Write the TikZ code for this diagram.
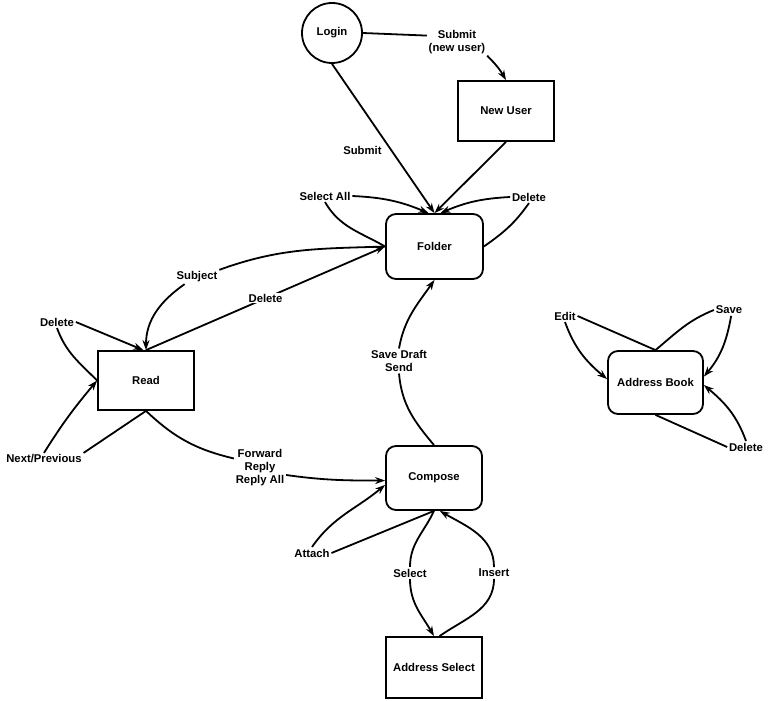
\documentclass[tikz,border=0pt]{standalone}
\usepackage{fontspec}
\setmainfont{Liberation Sans}
\usetikzlibrary{arrows.meta}

\begin{document}
\begin{tikzpicture}[x=1pt, y=1pt, line width=1.8pt,
    >={Stealth[length=10pt,width=7pt]},
    stato/.style={draw, font=\fontsize{11.3}{13}\selectfont\bfseries,
      minimum width=96pt, minimum height=60pt, inner sep=2pt},
    cartella/.style={stato, rounded corners=10pt},
    etichetta/.style={font=\fontsize{11.3}{13}\selectfont\bfseries,
      align=center, inner sep=1pt}]
      % Cornice
      \useasboundingbox (0,0) rectangle (774,-701);

      % Stati
      \node[stato, circle, minimum width=60pt, minimum height=60pt] (login) at (332,-33) {Login};
      \node[stato] (nuovo) at (506,-111) {New User};
      \node[cartella, minimum width=97pt, minimum height=65pt] (folder) at (434.5,-246.5) {Folder};
      \node[stato, minimum height=59pt] (read) at (146,-380.5) {Read};
      \node[cartella, minimum height=64pt] (compose) at (434,-478) {Compose};
      \node[stato, minimum height=61pt] (addrsel) at (434,-667.5) {Address Select};
      \node[cartella, minimum width=95pt, minimum height=63pt] (addrbook) at (655.5,-382.5) {Address Book};

      % Etichette delle transizioni
      \node[etichetta] (subnuovo) at (457,-42) {Submit\\(new user)};
      \node[etichetta] (selall) at (325,-196) {Select All};
      \node[etichetta] (fdel) at (529,-197) {Delete};
      \node[etichetta] (subj) at (197,-277) {Subject};
      \node[etichetta] (rdel) at (57,-322) {Delete};
      \node[etichetta] (np) at (44,-459) {Next/Previous};
      \node[etichetta] (fwd) at (260,-468) {Forward\\Reply\\Reply All};
      \node[etichetta] (bozza) at (399,-361) {Save Draft\\Send};
      \node[etichetta] (attach) at (312,-553) {Attach};
      \node[etichetta] (sel) at (410,-573) {Select};
      \node[etichetta] (ins) at (494,-573) {Insert};
      \node[etichetta] (edit) at (565,-316) {Edit};
      \node[etichetta] (absave) at (729,-310) {Save};
      \node[etichetta] (abdel) at (746,-447) {Delete};

      % Login
      \draw (login.east) -- (subnuovo.168);
      \draw[->] (subnuovo.south east) to[out=-45, in=120] (nuovo.north);
      \draw[->] (login.south) -- node[etichetta, left=8pt, pos=0.58] (sub) {Submit} (folder.north);
      \draw[->] (nuovo.south) -- (folder.north);

      % Folder
      \draw (folder.west) to[out=150, in=-60] (selall.south);
      \draw[->] (selall.east) to[bend left=10] (folder.100);
      \draw (folder.east) to[out=35, in=-125] (fdel.south);
      \draw[->] (fdel.west) to[bend right=10] (folder.80);
      \draw (folder.west) to[out=182, in=20] (subj.north east);
      \draw[->] (subj.-150) to[out=-145, in=90] (read.north);

      % Read
      \draw[->] (read.north) -- node[etichetta, fill=white] (rfdel) {Delete} (folder.west);
      \draw (read.west) to[out=135, in=-70] (rdel.south);
      \draw[->] (rdel.east) -- (read.95);
      \draw (read.south) -- (np.north east);
      \draw[->] (np.north) to[out=58, in=-130] (read.west);
      \draw (read.south) to[bend right=15] (fwd.160);
      \draw[->] (fwd.-15) to[out=-8, in=180] (compose.183);

      % Compose
      \draw (compose.south) -- (attach.east);
      \draw[->] (attach.north) to[out=55, in=-140] (compose.188);
      \draw (compose.north) to[out=130, in=-85] (bozza.south);
      \draw[->] (bozza.north) to[out=80, in=-125] (folder.south);
      \draw (compose.south) to[out=-115, in=90] (sel.north);
      \draw[->] (sel.south) to[out=-90, in=120] (addrsel.north);
      \draw (addrsel.80) to[out=35, in=-90] (ins.south);
      \draw[->] (ins.north) to[out=90, in=-30] (compose.-80);

      % Address Book
      \draw (addrbook.north) -- (edit.east);
      \draw[->] (edit.south) to[out=-70, in=140] (addrbook.176);
      \draw (addrbook.north) to[out=40, in=-158] (absave.west);
      \draw[->] (absave.-70) to[out=-100, in=50] (addrbook.7);
      \draw (addrbook.south) -- (abdel.west);
      \draw[->] (abdel.north) to[out=110, in=-40] (addrbook.-3);
    \end{tikzpicture}
\end{document}
